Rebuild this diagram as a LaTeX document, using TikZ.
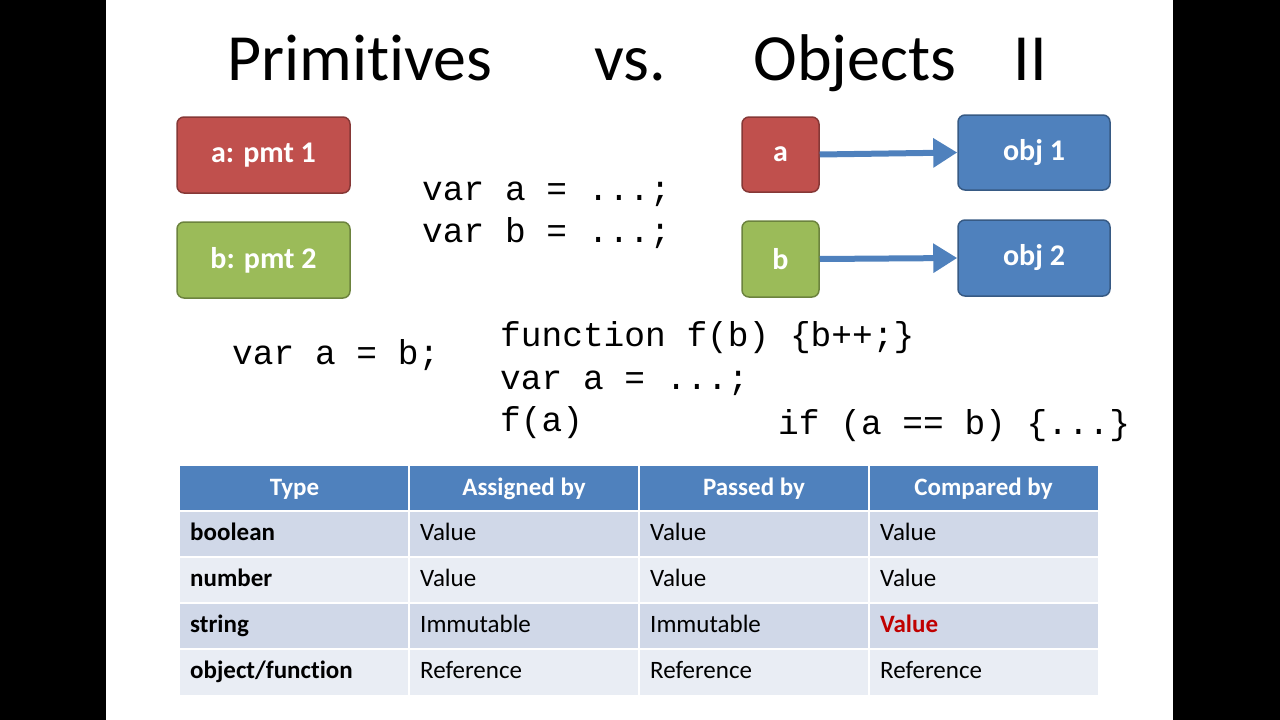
\documentclass[tikz,border=0pt]{standalone}
\usepackage{fontspec}
\setmainfont{Carlito}[Ligatures=NoCommon]
\setmonofont{Liberation Mono}
\usetikzlibrary{positioning,arrows.meta}
\definecolor{pmtred}{HTML}{C0504D}
\definecolor{pmtgreen}{HTML}{9BBB59}
\definecolor{objblue}{HTML}{4F81BD}
\definecolor{rowdark}{HTML}{D0D8E8}
\definecolor{rowlight}{HTML}{E9EDF4}
\definecolor{valred}{HTML}{C00000}
\begin{document}
\begin{tikzpicture}[x=1pt, y=-1pt,
	title/.style = {anchor=base, inner sep=0pt, font=\fontsize{66}{70}\selectfont},
	box/.style = {draw, line width=1.5pt, rounded corners=7pt, text=white, font=\fontsize{30}{32}\selectfont\bfseries},
	code/.style = {anchor=base west, inner sep=0pt, font=\fontsize{34.5}{38}\selectfont\ttfamily},
	cell/.style = {anchor=west, inner sep=0pt, font=\fontsize{25}{28}\selectfont},
	ref/.style = {draw=objblue, line width=6pt, -{Triangle[length=24pt,width=28pt]}}]
	\useasboundingbox (0,0) rectangle (1280,720);
	\fill[black] (0,0) rectangle (106,720);
	\fill[black] (1173,0) rectangle (1280,720);
	% title
	\node[title] (t1) at (360,80) {Primitives};
	\node[title] (t2) at (630,80) {vs.};
	\node[title] (t3) at (855,80) {Objects};
	\node[title] (t4) at (1030,80) {II};
	% primitives
	\node[box, fill=pmtred, draw=pmtred!70!black, minimum width=173pt, minimum height=76pt] (pa) at (263.5,155) {a: pmt 1};
	\node[box, fill=pmtgreen, draw=pmtgreen!70!black, minimum width=173pt, minimum height=76pt] (pb) at (263.5,260) {b: pmt 2};
	\node[code] (va) at (422,200) {var a = ...;};
	\node[code] (vb) at (422,242) {var b = ...;};
	% objects
	\node[box, fill=pmtred, draw=pmtred!70!black, minimum width=77pt, minimum height=75pt] (oa) at (780.5,154.5) {a};
	\node[box, fill=pmtgreen, draw=pmtgreen!70!black, minimum width=77pt, minimum height=76pt] (ob) at (780.5,259) {b};
	\node[box, fill=objblue, draw=objblue!70!black, minimum width=152pt, minimum height=75pt] (o1) at (1034,152.5) {obj 1};
	\node[box, fill=objblue, draw=objblue!70!black, minimum width=152pt, minimum height=76pt] (o2) at (1034,258) {obj 2};
	\draw[ref] (oa.east) to (o1.west);
	\draw[ref] (ob.east) to (o2.west);
	% code
	\node[code] (c1) at (232,364) {var a = b;};
	\node[code] (c2) at (500,346) {function f(b) \{b++;\}};
	\node[code] (c3) at (500,389) {var a = ...;};
	\node[code] (c4) at (500,431) {f(a)};
	\node[code] (c5) at (778,434) {if (a == b) \{...\}};
	% table
	\fill[objblue] (180,466) rectangle (1098,511);
	\foreach \r/\c in {0/rowdark,1/rowlight,2/rowdark,3/rowlight}
		\fill[\c] (180,511+46*\r) rectangle (1098,557+46*\r);
	\foreach \x in {409,639,869}
		\draw[white, line width=1.5pt] (\x,466) -- (\x,695);
	\foreach \r in {0,...,3}
		\draw[white, line width=1.5pt] (180,511+46*\r) -- (1098,511+46*\r);
	\foreach \x/\t in {294.5/Type,524/Assigned by,754/Passed by,983.5/Compared by}
		\node[font=\fontsize{25}{28}\selectfont\bfseries, text=white] at (\x,489) {\t};
	\foreach \r/\a/\b/\c/\d in {0/boolean/Value/Value/Value,1/number/Value/Value/Value,
		2/string/Immutable/Immutable/,3/object\slash function/Reference/Reference/Reference} {
		\node[cell, font=\fontsize{25}{28}\selectfont\bfseries] at (190,534+46*\r) {\vphantom{Ay}\a};
		\node[cell] at (420,534+46*\r) {\vphantom{Ay}\b};
		\node[cell] at (650,534+46*\r) {\vphantom{Ay}\c};
		\node[cell] at (880,534+46*\r) {\vphantom{Ay}\d};
	}
	\node[cell, font=\fontsize{25}{28}\selectfont\bfseries, text=valred] (sv) at (880,626) {\vphantom{Ay}Value};
\end{tikzpicture}
\end{document}
